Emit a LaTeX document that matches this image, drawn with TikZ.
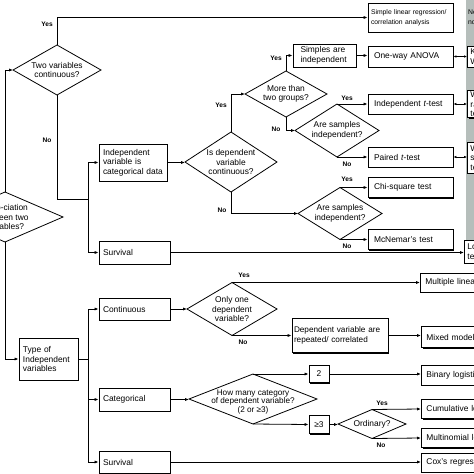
\documentclass[tikz,border=0pt]{standalone}
\usepackage{fontspec}
\setmainfont{Liberation Sans}
\usetikzlibrary{arrows.meta,shapes.geometric,shadows}

\definecolor{colgray}{RGB}{182,190,187}

\begin{document}
\begin{tikzpicture}[x=1pt,y=-1pt,
	txt/.style={font=\fontsize{8.4}{9.5}\selectfont},
	box/.style={txt, draw, fill=white, line width=0.9pt, align=left, inner ysep=0pt, inner xsep=4pt,
		drop shadow={shadow xshift=1.3pt, shadow yshift=-1.3pt, opacity=1, fill=black}},
	dia/.style={draw, diamond, line width=0.8pt, inner sep=0pt, outer sep=0pt},
	dtext/.style={txt, align=center, inner sep=0pt},
	lbl/.style={font=\bfseries\fontsize{6.6}{7}\selectfont, inner sep=0pt},
	arr/.style={line width=0.8pt, -{Latex[length=4pt,width=3.2pt]}},
	link/.style={line width=0.8pt},
	dbl/.style={line width=0.8pt, {Latex[length=3pt,width=2.6pt]}-{Latex[length=3pt,width=2.6pt]}}]

\useasboundingbox (0,0) rectangle (474,474);
\clip (0,0) rectangle (474,474);

% the nonparametric column
\fill[colgray] (466,0) rectangle (480,240);
\node[anchor=west, align=left, inner sep=0pt, font=\fontsize{6.8}{10.5}\selectfont] (nonpar) at (468,17.5) {Nonparametric\\nonlinear regression};

% decisions
\node[dia, minimum width=116, minimum height=50] (assoc) at (5,217) {};
\node[dtext] (assoc-t) at (assoc) {Asso-ciation\\between two\\variables?};
\node[dia, minimum width=88, minimum height=50] (twocont) at (57,70) {};
\node[dtext] (twocont-t) at (twocont) {Two variables\\continuous?};
\node[dia, minimum width=92, minimum height=60] (isdep) at (231,162) {};
\node[dtext] (isdep-t) at (isdep) {Is dependent\\variable\\continuous?};
\node[dia, minimum width=82, minimum height=46] (more) at (286,94) {};
\node[dtext] (more-t) at (more) {More than\\two groups?};
\node[dia, minimum width=84, minimum height=53] (samp1) at (337,130.5) {};
\node[dtext] (samp1-t) at (samp1) {Are samples\\independent?};
\node[dia, minimum width=84, minimum height=52] (samp2) at (340,213.5) {};
\node[dtext] (samp2-t) at (samp2) {Are samples\\independent?};
\node[dia, minimum width=90, minimum height=53] (onlyone) at (232,309) {};
\node[dtext] (onlyone-t) at (onlyone) {Only one\\dependent\\variable?};
\node[dia, minimum width=128, minimum height=50] (howmany) at (253,399) {};
\node[dtext, font=\fontsize{8.2}{8.2}\selectfont] (howmany-t) at ([yshift=-3pt]howmany) {How many category\\of dependent variable?\\(2 or ≥3)};
\node[dia, minimum width=68, minimum height=29] (ord) at (372,424) {};
\node[dtext] (ord-t) at (ord) {Ordinary?};

% boxes
\node[box, text width=79, inner xsep=3pt, minimum height=29, font=\fontsize{6.8}{10.5}\selectfont] (slr) at (410.5,17.5) {Simple linear regression/\\correlation analysis};
\node[box, text width=48, inner xsep=7.5pt, minimum height=23] (simp) at (324.5,55.5) {Simples are\\independent};
\node[box, text width=73, inner xsep=6pt, minimum height=21] (anova) at (410.5,56.5) {One-way ANOVA};
\node[box, text width=73, inner xsep=6pt, minimum height=20] (indt) at (410.5,104) {Independent \textit{t}-test};
\node[box, text width=73, inner xsep=6pt, minimum height=20] (pair) at (410.5,157) {Paired \textit{t}-test};
\node[box, text width=73, inner xsep=6pt, minimum height=20] (chi) at (410.5,187.5) {Chi-square test};
\node[box, text width=73, inner xsep=6pt, minimum height=20] (mcn) at (410.5,239.5) {McNemar’s test};
\node[box, text width=60, minimum height=37] (cat) at (133,162.5) {Independent\\variable is\\categorical data};
\node[box, text width=63, minimum height=23] (surv1) at (134.5,252.5) {Survival};
\node[box, text width=51, minimum height=42] (type) at (48.5,359) {Type of\\Independent\\variables};
\node[box, text width=63, minimum height=22] (cont) at (134.5,309) {Continuous};
\node[box, text width=63, minimum height=23] (categ) at (134.5,399.5) {Categorical};
\node[box, text width=63, minimum height=22] (surv2) at (134.5,462) {Survival};
\node[box, text width=92, inner xsep=2pt, minimum height=34, font=\fontsize{8.2}{9.5}\selectfont] (rep) at (340,335.5) {Dependent variable are\\repeated/ correlated};
\node[box, align=center, text width=12, minimum height=17] (two) at (319,374) {2};
\node[box, align=center, text width=12, minimum height=18] (ge3) at (319,424.5) {≥3};

% regression models (cut at the right)
\node[box, anchor=west, text width=130, inner xsep=5pt, minimum height=19] (mlr) at (420,282.5) {Multiple linear regression};
\node[box, anchor=west, text width=130, inner xsep=5pt, minimum height=21] (mixed) at (421,337) {Mixed model};
\node[box, anchor=west, text width=130, inner xsep=5pt, minimum height=20] (bin) at (421,375) {Binary logistic regression};
\node[box, anchor=west, text width=130, inner xsep=5pt, minimum height=19] (cum) at (421,409) {Cumulative logit model};
\node[box, anchor=west, text width=130, inner xsep=5pt, minimum height=19] (multi) at (421,438) {Multinomial logistic regression};
\node[box, anchor=west, text width=130, inner xsep=5pt, minimum height=19] (cox) at (421,462.5) {Cox’s regression};

% nonparametric tests
\node[box, anchor=west, text width=70, inner xsep=3pt, minimum height=21] (kw) at (467,56.5) {Kruskal-\\Wallis test};
\node[box, anchor=west, text width=70, inner xsep=3pt, minimum height=27] (wrs) at (467,104) {Wilcoxon\\rank sum\\test};
\node[box, anchor=west, text width=70, inner xsep=3pt, minimum height=31] (wsr) at (467,157.5) {Wilcoxon\\signed rank\\test};
\node[box, anchor=west, text width=70, inner xsep=3pt, minimum height=23] (lr) at (464,251.5) {Log-rank\\test};

% connectors
\coordinate (j1) at (88,199);
\coordinate (j2) at (88,359);
\draw[arr] (assoc.north) |- (twocont.west);
\draw[arr] (assoc.south) |- (type.west);
\draw[arr] (twocont.north) |- (slr.west);
\draw[link] (twocont.south) |- (j1);
\draw[arr] (j1) |- (cat.west);
\draw[arr] (j1) |- (surv1.west);
\draw[arr] (cat.east) -- (cat.east -| isdep.west);
\draw[arr] (isdep.north) |- (more.west);
\draw[arr] (isdep.south) |- (samp2.west);
\draw[arr] (more.north) |- (simp.west);
\draw[arr] (more.south) |- (samp1.west);
\draw[arr] (simp.east) -- (simp.east -| anova.west);
\draw[arr] (samp1.north) -- (indt.west);
\draw[arr] (samp1.south) -- (pair.west);
\draw[arr] (samp2.north) -- (chi.west);
\draw[arr] (samp2.south) -- (mcn.west);
\draw[arr] (surv1.east) -- (surv1.east -| lr.west);
\draw[link] (type.east) -- (j2);
\foreach \b in {cont, categ, surv2}
	\draw[arr] (j2) |- (\b.west);
\draw[arr] (cont.east) -- (onlyone.west);
\draw[arr] (onlyone.north) -- (mlr.west);
\draw[arr] (onlyone.south) -- (rep.west);
\draw[arr] (rep.east) -- (rep.east -| mixed.west);
\draw[arr] (categ.east) -- (categ.east -| howmany.west);
\draw[arr] (howmany.north) -- (two.west);
\draw[arr] (two.east) -- (two.east -| bin.west);
\draw[arr] (howmany.south) -- (ge3.west);
\draw[arr] (ge3.east) -- (ge3.east -| ord.west);
\draw[arr] (ord.north) -- (cum.west);
\draw[arr] (ord.south) -- (multi.west);
\draw[arr] (surv2.east) -- (surv2.east -| cox.west);
\foreach \a/\b in {anova/kw, indt/wrs, pair/wsr}
	\draw[dbl] (\a.east) -- (\a.east -| \b.west);

% yes / no
\node[lbl] (yes1) at (47,24) {Yes};
\node[lbl] (no1) at (47,140) {No};
\node[lbl] (yes2) at (221,105) {Yes};
\node[lbl] (no2) at (222,210) {No};
\node[lbl] (yes3) at (276,58) {Yes};
\node[lbl] (no3) at (276,129) {No};
\node[lbl] (yes4) at (347,98) {Yes};
\node[lbl] (no4) at (347,164) {No};
\node[lbl] (yes5) at (347,179) {Yes};
\node[lbl] (no5) at (347,246) {No};
\node[lbl] (yes6) at (244,275) {Yes};
\node[lbl] (no6) at (243,342) {No};
\node[lbl] (yes7) at (382,403) {Yes};
\node[lbl] (no7) at (381,445) {No};

\end{tikzpicture}
\end{document}
